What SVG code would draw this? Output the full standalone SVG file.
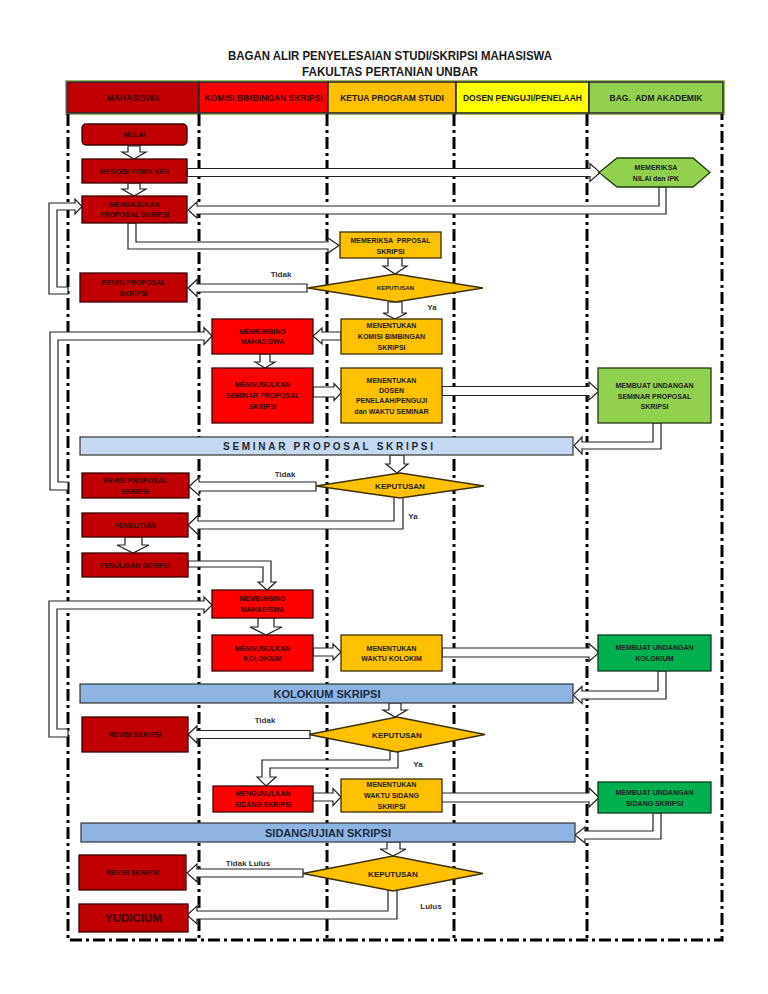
<svg xmlns="http://www.w3.org/2000/svg" width="768" height="994" viewBox="0 0 768 994">
<style>
.bg{fill:#fff}
.n1{fill:#C00000;stroke:#3a0000;stroke-width:1.3}
.n2{fill:#FF0000;stroke:#400000;stroke-width:1.3}
.n3{fill:#FFC000;stroke:#3a3000;stroke-width:1.3}
.n4{fill:#92D050;stroke:#223a10;stroke-width:1.3}
.n5{fill:#00B050;stroke:#0f3a1f;stroke-width:1.3}
.bl{fill:#C6D9F1;stroke:#333;stroke-width:1.2}
.bk{fill:#8DB4E2;stroke:#333;stroke-width:1.2}
.hc{stroke:#2a2a2a;stroke-width:1.6}
text{font-family:"Liberation Sans",Arial,sans-serif;font-weight:bold;text-anchor:middle}
.t{font-size:7px}
.tr{fill:#3a0000}
.tk{fill:#222}
.h{font-size:8.5px}
.lb{font-size:8px;fill:#333}
.a{fill:#fff;stroke:#222;stroke-width:1.2;stroke-linejoin:miter}
.lane{stroke:#000;stroke-width:3;stroke-dasharray:12 4 3 4;fill:none}
</style>
<rect class="bg" x="0" y="0" width="768" height="994"/>

<g id="title">
<text x="390" y="59.5" font-size="12.5" fill="#1a1a1a" textLength="324" lengthAdjust="spacingAndGlyphs">BAGAN ALIR PENYELESAIAN STUDI/SKRIPSI MAHASISWA</text>
<text x="390" y="75.5" font-size="12.5" fill="#1a1a1a" textLength="176" lengthAdjust="spacingAndGlyphs">FAKULTAS PERTANIAN UNBAR</text>
</g>

<g id="header">
<rect x="65.5" y="80.5" width="659" height="34" fill="#fff" stroke="#9BBB59" stroke-width="1"/>
<rect class="hc" x="67" y="82" width="132" height="31" fill="#C00000"/>
<rect class="hc" x="199" y="82" width="129" height="31" fill="#FF0000"/>
<rect class="hc" x="328" y="82" width="128" height="31" fill="#FFC000"/>
<rect class="hc" x="456" y="82" width="133" height="31" fill="#FFFF00"/>
<rect class="hc" x="589" y="82" width="134" height="31" fill="#92D050"/>
<text class="h tr" x="133" y="100.5">MAHASISWA</text>
<text class="h tr" x="263.5" y="100.5">KOMISI BIMBINGAN SKRIPSI</text>
<text class="h tk" x="392" y="100.5">KETUA PROGRAM STUDI</text>
<text class="h tk" x="522.5" y="100.5">DOSEN PENGUJI/PENELAAH</text>
<text class="h tk" x="656" y="100.5" xml:space="preserve">BAG.  ADM AKADEMIK</text>
</g>

<g id="lanes">
<path class="lane" d="M68,114 V940 H722 V114"/>
<path class="lane" d="M199,114 V940"/>
<path class="lane" d="M327,114 V940"/>
<path class="lane" d="M454,114 V940"/>
<path class="lane" d="M587,114 V940"/>
</g>

<g id="connectors">
<!-- vertical down arrows -->
<polygon class="a" points="128,146 140,146 140,152 146,152 134,159 122,152 128,152"/>
<polygon class="a" points="128,183 140,183 140,189 146,189 134,196 122,189 128,189"/>
<polygon class="a" points="388,258 402,258 402,266 407,266 395,274 383,266 388,266"/>
<polygon class="a" points="388,302 402,302 402,313 407,313 395,319 383,313 388,313"/>
<polygon class="a" points="260,354 270,354 270,362 275,362 265,368 255,362 260,362"/>
<polygon class="a" points="390,455 404,455 404,464 408,464 397,473 386,464 390,464"/>
<polygon class="a" points="125,537 142,537 142,545 149,545 133,553 117,545 125,545"/>
<polygon class="a" points="258,618 274,618 274,627 282,627 266,635 250,627 258,627"/>
<polygon class="a" points="389,703 401,703 401,710 407,710 395,717 383,710 389,710"/>
<polygon class="a" points="387,842 400,842 400,849 406,849 393,856 380,849 387,849"/>
<!-- horizontal right arrows -->
<polygon class="a" points="187,168.5 590,168.5 590,163.5 600,172.5 590,181.5 590,176.5 187,176.5"/>
<polygon class="a" points="313,387 334,387 334,383.5 342,392 334,400.5 334,397 313,397"/>
<polygon class="a" points="442,386.5 589,386.5 589,382 599,391 589,400 589,395.5 442,395.5"/>
<polygon class="a" points="313,648 333,648 333,644 341,652 333,660 333,656 313,656"/>
<polygon class="a" points="442,648 589,648 589,643.5 599,652.5 589,661.5 589,657 442,657"/>
<polygon class="a" points="313,793 333,793 333,788.5 341,797 333,805.5 333,801 313,801"/>
<polygon class="a" points="441,793 589,793 589,788 599,797.5 589,807 589,802 441,802"/>
<!-- horizontal left arrows -->
<polygon class="a" points="341,332 322,332 322,328 313,336 322,344 322,340 341,340"/>
<polygon class="a" points="307,284 197,284 197,279.5 188,288 197,296.5 197,292 307,292"/>
<polygon class="a" points="316,482 199,482 199,477.5 189,486.5 199,495.5 199,491 316,491"/>
<polygon class="a" points="310,730.5 197,730.5 197,726 188,734.5 197,743 197,738.5 310,738.5"/>
<polygon class="a" points="303,869 197,869 197,864 187,873 197,882 197,877 303,877"/>
<!-- elbow arrows -->
<polygon class="a" points="128,223 128,249 328,249 328,253 339,245.5 328,238 328,242 136,242 136,223"/>
<polygon class="a" points="666,187 666,214 197,214 197,218 188,210 197,202 197,206 659,206 659,187"/>
<polygon class="a" points="661,423 661,449 582,449 582,454 574,445.5 582,437 582,442 653,442 653,423"/>
<polygon class="a" points="394,497 394,521 198,521 198,515.5 188,525 198,534.5 198,529 403,529 403,497"/>
<polygon class="a" points="188,561 271,561 271,582 276,582 267,590 258,582 263,582 263,567 188,567"/>
<polygon class="a" points="658,671 658,691 582,691 582,686.5 573,695 582,703.5 582,699 666,699 666,671"/>
<polygon class="a" points="390,751 390,760 262,760 262,777 257,777 266,786 276,777 270,777 270,768 398,768 398,751"/>
<polygon class="a" points="653,813 653,831 585,831 585,827 575,835 585,843 585,839 661,839 661,813"/>
<polygon class="a" points="388,890 388,911 197,911 197,906 187,915 197,924 197,919 397,919 397,890"/>
<!-- feedback loops -->
<polygon class="a" points="68,287 57,287 57,210 75,210 75,214 82,206.5 75,199 75,203 49,203 49,294 68,294"/>
<polygon class="a" points="68,482 58,482 58,340 204,340 204,344.5 212,336 204,327.5 204,332 50,332 50,490 68,490"/>
<polygon class="a" points="68,729 57,729 57,609 204,609 204,613 212,605 204,597 204,601 49,601 49,737 68,737"/>
<!-- labels -->
<text class="lb" x="281" y="277">Tidak</text>
<text class="lb" x="432" y="310">Ya</text>
<text class="lb" x="285" y="477">Tidak</text>
<text class="lb" x="413" y="519">Ya</text>
<text class="lb" x="265" y="723">Tidak</text>
<text class="lb" x="418" y="767">Ya</text>
<text class="lb" x="248" y="866">Tidak Lulus</text>
<text class="lb" x="431" y="909">Lulus</text>
</g>

<g id="n_mulai"><rect class="n1" x="82" y="124" width="105" height="21" rx="4"/><text class="t tr" x="134.5" y="137">MULAI</text></g>
<g id="n_krs"><rect class="n1" x="82" y="159" width="105" height="24"/><text class="t tr" x="134.5" y="173.5">MENGISI FORM KRS</text></g>
<g id="n_ajukan"><rect class="n1" x="82" y="196" width="105" height="27"/><text class="t tr" x="134.5" y="206.5">MENGAJUKAN</text><text class="t tr" x="134.5" y="216.5">PROPOSAL SKRIPSI</text></g>
<g id="n_nilai"><polygon class="n4" points="599,172.5 617,158 693,158 710,172.5 693,187 617,187"/><text class="t tk" x="656" y="170" font-size="6.5">MEMERIKSA</text><text class="t tk" x="656" y="180.5" font-size="6.5">NILAI dan IPK</text></g>
<g id="n_periksa"><rect class="n3" x="340" y="232" width="101" height="26"/><text class="t tk" x="390.5" y="242.5" xml:space="preserve">MEMERIKSA  PRPOSAL</text><text class="t tk" x="390.5" y="253.5">SKRIPSI</text></g>
<g id="n_revisi1"><rect class="n1" x="80" y="273" width="107" height="29"/><text class="t tr" x="133.5" y="284.5">REVISI PROPOSAL</text><text class="t tr" x="133.5" y="295.5">SKRIPSI</text></g>
<g id="n_kep1"><polygon class="n3" points="308,288 395.5,274 483,288 395.5,302"/><text class="tk" x="395.5" y="290.3" font-size="6">KEPUTUSAN</text></g>
<g id="n_bimbing1"><rect class="n2" x="212" y="319" width="101" height="35"/><text class="t tr" x="262.5" y="334">MEMBIMBING</text><text class="t tr" x="262.5" y="344">MAHASISWA</text></g>
<g id="n_komisi"><rect class="n3" x="341" y="319" width="101" height="35"/><text class="t tk" x="391.5" y="327.5">MENENTUKAN</text><text class="t tk" x="391.5" y="338.5">KOMISI BIMBINGAN</text><text class="t tk" x="391.5" y="350">SKRIPSI</text></g>
<g id="n_usul_sem"><rect class="n2" x="212" y="368" width="101" height="55"/><text class="t tr" x="262.5" y="386.5">MENGUSULKAN</text><text class="t tr" x="262.5" y="398">SEMINAR PROPOSAL</text><text class="t tr" x="262.5" y="408.5">SKRIPSI</text></g>
<g id="n_dosen"><rect class="n3" x="341" y="368" width="101" height="55"/><text class="t tk" x="391.5" y="382.5">MENENTUKAN</text><text class="t tk" x="391.5" y="392.5">DOSEN</text><text class="t tk" x="391.5" y="403">PENELAAH/PENGUJI</text><text class="t tk" x="391.5" y="414">dan WAKTU SEMINAR</text></g>
<g id="n_und_sem"><rect class="n4" x="598" y="368" width="113" height="55"/><text class="t tk" x="654.5" y="387.5">MEMBUAT UNDANGAN</text><text class="t tk" x="654.5" y="398.5">SEMINAR PROPOSAL</text><text class="t tk" x="654.5" y="409">SKRIPSI</text></g>
<g id="n_band_sem"><rect class="bl" x="80" y="437" width="493" height="18"/><text x="328" y="449.5" font-size="10" fill="#1f2a3a" textLength="210" lengthAdjust="spacing">SEMINAR PROPOSAL SKRIPSI</text></g>
<g id="n_kep2"><polygon class="n3" points="316,486 400,473 484,486 400,498"/><text class="tk" x="400" y="489" font-size="8">KEPUTUSAN</text></g>
<g id="n_revisi2"><rect class="n1" x="82" y="473" width="107" height="25"/><text class="t tr" x="135" y="482.5">REVISI PROPOSAL</text><text class="t tr" x="135" y="493.5">SKRIPSI</text></g>
<g id="n_penelitian"><rect class="n1" x="82" y="513" width="106" height="24"/><text class="t tr" x="135" y="527.5">PENELITIAN</text></g>
<g id="n_penulisan"><rect class="n1" x="82" y="553" width="106" height="24"/><text class="t tr" x="135" y="567.5">PENULISAN SKRIPSI</text></g>
<g id="n_bimbing2"><rect class="n2" x="212" y="590" width="101" height="28"/><text class="t tr" x="262.5" y="600.5">MEMBIMBING</text><text class="t tr" x="262.5" y="611.5">MAHASISWA</text></g>
<g id="n_usul_kol"><rect class="n2" x="212" y="635" width="101" height="36"/><text class="t tr" x="262.5" y="650.5">MENGUSULKAN</text><text class="t tr" x="262.5" y="661">KOLOKIUM</text></g>
<g id="n_waktu_kol"><rect class="n3" x="341" y="635" width="101" height="36"/><text class="t tk" x="391.5" y="650.5">MENENTUKAN</text><text class="t tk" x="391.5" y="661">WAKTU KOLOKIM</text></g>
<g id="n_und_kol"><rect class="n5" x="598" y="635" width="113" height="36"/><text class="t tk" x="654.5" y="649.5">MEMBUAT UNDANGAN</text><text class="t tk" x="654.5" y="660.5">KOLOKIUM</text></g>
<g id="n_band_kol"><rect class="bk" x="80" y="684" width="493" height="19"/><text x="327" y="697.5" font-size="11" fill="#1c2b45">KOLOKIUM SKRIPSI</text></g>
<g id="n_kep3"><polygon class="n3" points="309,734.5 397,717 485,734.5 397,752"/><text class="tk" x="397" y="737.5" font-size="8">KEPUTUSAN</text></g>
<g id="n_revisi3"><rect class="n1" x="82" y="717" width="106" height="35"/><text class="t tr" x="135" y="737">REVISI SKRIPSI</text></g>
<g id="n_usul_sid"><rect class="n2" x="213" y="786" width="100" height="26"/><text class="t tr" x="263" y="795.5">MENGUSULKAN</text><text class="t tr" x="263" y="806.5">SIDANG SKRIPSI</text></g>
<g id="n_waktu_sid"><rect class="n3" x="341" y="779" width="101" height="33"/><text class="t tk" x="391.5" y="786.5">MENENTUKAN</text><text class="t tk" x="391.5" y="797.5">WAKTU SIDANG</text><text class="t tk" x="391.5" y="809">SKRIPSI</text></g>
<g id="n_und_sid"><rect class="n5" x="598" y="782" width="113" height="31"/><text class="t tk" x="654.5" y="794.5">MEMBUAT UNDANGAN</text><text class="t tk" x="654.5" y="805.5">SIDANG SKRIPSI</text></g>
<g id="n_band_sid"><rect class="bk" x="81" y="823" width="494" height="19"/><text x="328" y="836.5" font-size="11" fill="#1c2b45">SIDANG/UJIAN SKRIPSI</text></g>
<g id="n_kep4"><polygon class="n3" points="303,873.5 393,856 483,873.5 393,891"/><text class="tk" x="393" y="876.5" font-size="8">KEPUTUSAN</text></g>
<g id="n_revisi4"><rect class="n1" x="79" y="855" width="107" height="35"/><text class="t tr" x="132.5" y="874.5">REVISI SKRIPSI</text></g>
<g id="n_yudicium"><rect class="n1" x="79" y="904" width="109" height="28"/><text class="tr" x="133.5" y="922" font-size="11.5">YUDICIUM</text></g>
</svg>
